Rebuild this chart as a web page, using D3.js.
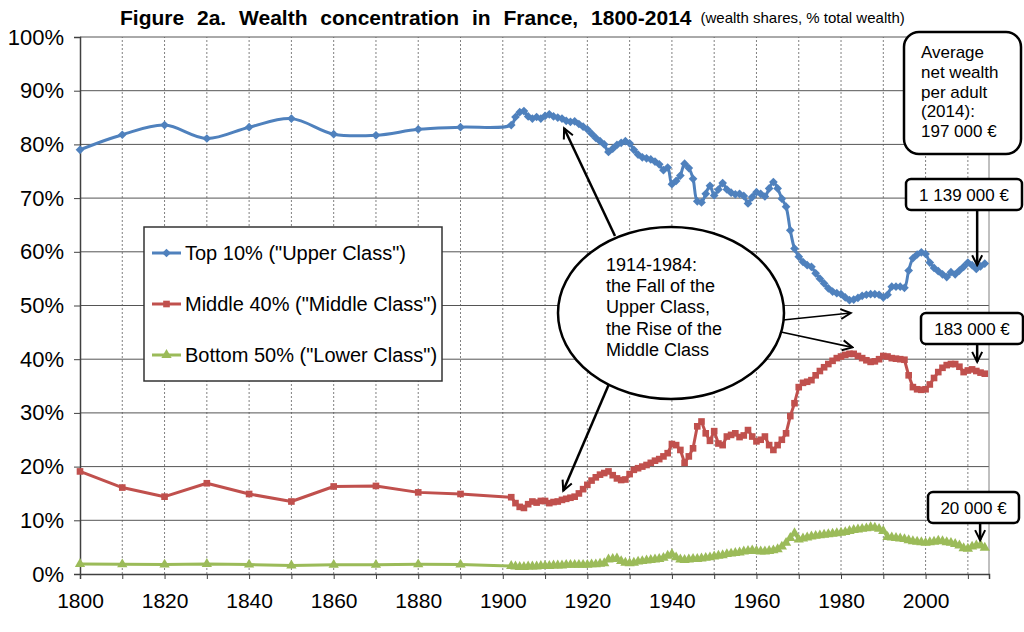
<!DOCTYPE html>
<html>
<head>
<meta charset="utf-8">
<script src="https://cdn.jsdelivr.net/npm/d3@7"></script>
<style>
  body { margin: 0; background: #fff; }
  svg text { font-family: "Liberation Sans", Arial, sans-serif; }
</style>
</head>
<body>
<div id="chart"></div>
<script>
// years: decennial estimates 1800-1890, then annual series 1902-2014
const years = [
  1800, 1810, 1820, 1830, 1840, 1850, 1860, 1870, 1880, 1890,
  1902, 1903, 1904, 1905, 1906, 1907, 1908, 1909, 1910, 1911,
  1912, 1913, 1914, 1915, 1916, 1917, 1918, 1919, 1920, 1921,
  1922, 1923, 1924, 1925, 1926, 1927, 1928, 1929, 1930, 1931,
  1932, 1933, 1934, 1935, 1936, 1937, 1938, 1939, 1940, 1941,
  1942, 1943, 1944, 1945, 1946, 1947, 1948, 1949, 1950, 1951,
  1952, 1953, 1954, 1955, 1956, 1957, 1958, 1959, 1960, 1961,
  1962, 1963, 1964, 1965, 1966, 1967, 1968, 1969, 1970, 1971,
  1972, 1973, 1974, 1975, 1976, 1977, 1978, 1979, 1980, 1981,
  1982, 1983, 1984, 1985, 1986, 1987, 1988, 1989, 1990, 1991,
  1992, 1993, 1994, 1995, 1996, 1997, 1998, 1999, 2000, 2001,
  2002, 2003, 2004, 2005, 2006, 2007, 2008, 2009, 2010, 2011,
  2012, 2013, 2014
]

const top10 = [
  79.0, 81.8, 83.6, 81.1, 83.2, 84.8, 81.9, 81.7, 82.8, 83.2,
  83.6, 85.1, 86.0, 86.2, 85.2, 84.8, 85.1, 84.8, 85.3, 85.6,
  85.2, 85.0, 84.8, 84.4, 84.2, 84.3, 83.8, 83.3, 82.8, 82.0,
  81.2, 80.6, 80.0, 78.6, 79.2, 79.9, 80.3, 80.6, 80.2, 79.0,
  78.1, 77.6, 77.4, 77.2, 76.8, 76.3, 75.2, 75.7, 72.6, 73.2,
  74.2, 76.4, 75.6, 73.6, 69.4, 69.2, 70.8, 72.3, 70.5, 71.6,
  72.8, 71.6, 71.0, 70.7, 70.8, 70.4, 69.0, 70.2, 71.1, 70.8,
  70.3, 71.8, 73.0, 71.8, 69.9, 68.4, 64.0, 60.6, 59.1, 58.1,
  57.5, 57.2, 56.0, 55.0, 54.1, 53.2, 52.6, 52.3, 52.1, 51.5,
  51.0, 51.1, 51.4, 51.8, 52.0, 52.1, 52.1, 52.0, 51.5, 52.0,
  53.5, 53.5, 53.5, 53.3, 56.5, 58.8, 59.5, 59.9, 59.6, 58.0,
  57.0, 56.4, 55.8, 55.3, 56.2, 55.8, 56.5, 57.2, 58.0, 57.5,
  56.8, 57.3, 57.8
]

const middle40 = [
  19.1, 16.1, 14.4, 16.9, 14.9, 13.5, 16.3, 16.4, 15.2, 14.9,
  14.3, 13.2, 12.5, 12.3, 13.0, 13.5, 13.3, 13.6, 13.6, 13.2,
  13.4, 13.5, 13.8, 14.0, 14.2, 14.4, 15.0, 15.8, 16.6, 17.4,
  18.0, 18.5, 18.8, 19.1, 18.4, 17.8, 17.5, 17.6, 18.6, 19.4,
  19.7, 20.0, 20.3, 20.7, 21.1, 21.4, 21.9, 22.5, 24.2, 24.0,
  23.1, 20.7, 21.9, 23.4, 27.5, 28.4, 26.2, 24.8, 26.6, 24.3,
  24.0, 25.6, 25.9, 26.2, 25.5, 25.8, 26.8, 25.6, 24.7, 25.0,
  25.6, 24.0, 23.1, 24.0, 25.0, 26.2, 29.4, 31.8, 34.8, 35.6,
  35.8, 36.1, 37.0, 37.8, 38.5, 39.1, 39.7, 40.2, 40.5, 40.8,
  41.0, 41.0, 40.6, 40.2, 39.8, 39.5, 39.6, 40.0, 40.6, 40.5,
  40.2, 40.1, 40.0, 39.9, 37.0, 34.8, 34.4, 34.3, 34.4, 35.3,
  36.5, 37.6, 38.4, 38.9, 39.1, 39.1, 38.6, 37.6, 37.9, 38.1,
  37.8, 37.5, 37.3
]

const bottom50 = [
  1.85, 1.8, 1.75, 1.85, 1.75, 1.6, 1.7, 1.7, 1.8, 1.75,
  1.5, 1.4, 1.3, 1.3, 1.4, 1.4, 1.4, 1.5, 1.5, 1.5,
  1.6, 1.6, 1.6, 1.7, 1.7, 1.7, 1.7, 1.7, 1.7, 1.8,
  1.8, 1.9, 2.0, 2.7, 2.8, 2.9, 2.4, 2.1, 2.0, 2.1,
  2.3, 2.4, 2.5, 2.6, 2.7, 2.8, 3.0, 3.4, 3.7, 3.1,
  2.7, 2.6, 2.7, 2.8, 2.8, 2.9, 3.0, 3.1, 3.25, 3.4,
  3.5, 3.7, 3.8, 3.9, 4.0, 4.2, 4.3, 4.4, 4.3, 4.2,
  4.2, 4.3, 4.4, 4.6, 5.1, 5.8, 6.7, 7.6, 6.4, 6.6,
  6.8, 7.0, 7.1, 7.2, 7.3, 7.4, 7.5, 7.6, 7.7, 7.8,
  8.0, 8.2, 8.3, 8.4, 8.5, 8.7, 8.6, 8.4, 8.0, 6.9,
  6.8, 6.7, 6.6, 6.5, 6.3, 6.1, 6.0, 5.9, 5.8, 5.9,
  6.0, 6.2, 6.1, 5.9, 5.8, 5.6, 5.3, 4.8, 4.7, 5.1,
  5.3, 5.4, 4.9
]

const seriesNames = ['Top 10% ("Upper Class")', 'Middle 40% ("Middle Class")', 'Bottom 50% ("Lower Class")']
const seriesColors = ["#4F81BD", "#C0504D", "#9BBB59"]
const yTicks = [0, 10, 20, 30, 40, 50, 60, 70, 80, 90, 100]
const xTicks = [1800, 1810, 1820, 1830, 1840, 1850, 1860, 1870, 1880, 1890, 1900,
  1910, 1920, 1930, 1940, 1950, 1960, 1970, 1980, 1990, 2000, 2010]

const width = 1024
const height = 632

const svg = d3.select("#chart").append("svg").attr("width", width).attr("height", height)

const x = d3.scaleLinear().domain([1800, 2015]).range([80, 989])
const y = d3.scaleLinear().domain([0, 100]).range([574, 37])

// arrow head
const defs = svg.append("defs")
defs.append("marker")
  .attr("id", "arrow")
  .attr("markerUnits", "userSpaceOnUse")
  .attr("viewBox", "0 0 14 14")
  .attr("refX", 12).attr("refY", 7)
  .attr("markerWidth", 14).attr("markerHeight", 14)
  .attr("orient", "auto")
  .append("path")
  .attr("d", "M2,2 L12,7 L2,12")
  .attr("fill", "none").attr("stroke", "#000").attr("stroke-width", 2)

// title
const title = svg.append("text").attr("x", 120).attr("y", 25)
title.append("tspan").attr("font-size", 21).attr("font-weight", "bold").attr("word-spacing", 7)
  .text("Figure 2a. Wealth concentration in France, 1800-2014")
title.append("tspan").attr("dx", 9).attr("font-size", 15).attr("dy", -2).text("(wealth shares, % total wealth)")

// grid lines
svg.append("g").selectAll("line").data(xTicks.slice(1)).join("line")
  .attr("x1", (d) => x(d)).attr("x2", (d) => x(d))
  .attr("y1", y(0)).attr("y2", y(100))
  .attr("stroke", "#808080").attr("stroke-width", 1).attr("stroke-dasharray", "2,2")

svg.append("g").selectAll("line").data(yTicks.slice(1)).join("line")
  .attr("x1", x(1800)).attr("x2", x(2015))
  .attr("y1", (d) => y(d)).attr("y2", (d) => y(d))
  .attr("stroke", "#555").attr("stroke-width", 1)

svg.append("line")
  .attr("x1", x(2015)).attr("x2", x(2015)).attr("y1", y(0)).attr("y2", y(100))
  .attr("stroke", "#808080")

// axes
const yAxis = svg.append("g").attr("transform", `translate(${x(1800)},0)`)
  .call(d3.axisLeft(y).tickValues(yTicks).tickFormat((d) => d + "%").tickSize(6).tickPadding(10))
yAxis.select(".domain").attr("stroke", "#404040").attr("stroke-width", 1.5)
yAxis.selectAll(".tick line").attr("stroke", "#404040")
yAxis.selectAll("text").attr("font-size", 22).attr("fill", "#000")

const xAxis = svg.append("g").attr("transform", `translate(0,${y(0)})`)
  .call(d3.axisBottom(x).tickValues(xTicks).tickFormat((d) => (d % 20 === 0 ? String(d) : "")).tickSize(5).tickPadding(14))
xAxis.select(".domain").attr("stroke", "#404040").attr("stroke-width", 1.5)
xAxis.selectAll(".tick line").attr("stroke", "#404040")
xAxis.selectAll("text").attr("font-size", 21).attr("fill", "#000")

// series
const allSeries = [top10, middle40, bottom50]
const symbols = [
  { type: d3.symbolSquare, size: 38, rotate: 45 },
  { type: d3.symbolSquare, size: 44, rotate: 0 },
  { type: d3.symbolTriangle, size: 46, rotate: 0 }
]

allSeries.forEach((vals, s) => {
  const pts = years.map((yr, i) => [yr, vals[i]])
  const line = d3.line().x((d) => x(d[0])).y((d) => y(d[1]))
  if (s === 0) line.curve(d3.curveCatmullRom.alpha(0.5))
  const g = svg.append("g")
  g.append("path").attr("d", line(pts))
    .attr("fill", "none").attr("stroke", seriesColors[s]).attr("stroke-width", 3)
    .attr("stroke-linejoin", "round")
  g.selectAll("path.m").data(pts).join("path").attr("class", "m")
    .attr("transform", (d) => `translate(${x(d[0])},${y(d[1])}) rotate(${symbols[s].rotate})`)
    .attr("d", d3.symbol(symbols[s].type, symbols[s].size))
    .attr("fill", seriesColors[s])
})

// legend
const legend = svg.append("g")
legend.append("rect").attr("x", 144).attr("y", 227).attr("width", 298).attr("height", 154)
  .attr("fill", "#fff").attr("stroke", "#333").attr("stroke-width", 1.5)
seriesNames.forEach((name, s) => {
  const ly = 253 + s * 51
  legend.append("line").attr("x1", 152).attr("x2", 181).attr("y1", ly).attr("y2", ly)
    .attr("stroke", seriesColors[s]).attr("stroke-width", 3)
  legend.append("path").attr("transform", `translate(166.5,${ly}) rotate(${symbols[s].rotate})`)
    .attr("d", d3.symbol(symbols[s].type, symbols[s].size)).attr("fill", seriesColors[s])
  legend.append("text").attr("x", 185).attr("y", ly).attr("dy", "0.36em")
    .attr("font-size", 20).text(name)
})

// callout bubble
const notes = svg.append("g")
const arrow = (x1, y1, x2, y2, w) =>
  notes.append("line").attr("x1", x1).attr("y1", y1).attr("x2", x2).attr("y2", y2)
    .attr("stroke", "#000").attr("stroke-width", w).attr("marker-end", "url(#arrow)")

arrow(615, 236, x(1914.5), y(83), 2.5)
arrow(609, 384, x(1914.3), y(15.5), 2.5)
arrow(783, 320, x(1982.3), y(48.6), 1.6)
arrow(781, 332, x(1982.7), y(42.2), 1.6)

notes.append("ellipse").attr("cx", 671).attr("cy", 313).attr("rx", 113).attr("ry", 86)
  .attr("fill", "#fff").attr("stroke", "#000").attr("stroke-width", 2.5)
const bubbleLines = ["1914-1984:", "the Fall of the", "Upper Class,", "the Rise of the", "Middle Class"]
notes.append("text").attr("font-size", 18).selectAll("tspan").data(bubbleLines).join("tspan")
  .attr("x", 606).attr("y", (d, i) => 271 + i * 21.2).text((d) => d)

// average wealth box
notes.append("rect").attr("x", 904).attr("y", 32).attr("width", 117).attr("height", 122).attr("rx", 15)
  .attr("fill", "#fff").attr("stroke", "#000").attr("stroke-width", 2.5)
const avgLines = ["Average", "net wealth", "per adult", "(2014):", "197 000 €"]
notes.append("text").attr("font-size", 17).selectAll("tspan").data(avgLines).join("tspan")
  .attr("x", 921).attr("y", (d, i) => 58 + i * 19.8).text((d) => d)

// value boxes with arrows to 2012
const boxes = [
  { label: "1 139 000 €", x: 906, y: 179, w: 116, tip: 57.5, ax: 2012.2 },
  { label: "183 000 €", x: 921, y: 313, w: 102, tip: 39.5, ax: 2012.2 },
  { label: "20 000 €", x: 928, y: 492, w: 91, tip: 6.3, ax: 2012.9 }
]
boxes.forEach((b) => {
  arrow(x(b.ax), b.y + 31, x(b.ax), y(b.tip), 2.5)
  notes.append("rect").attr("x", b.x).attr("y", b.y).attr("width", b.w).attr("height", 31).attr("rx", 5)
    .attr("fill", "#fff").attr("stroke", "#000").attr("stroke-width", 2.5)
  notes.append("text").attr("x", b.x + b.w / 2).attr("y", b.y + 22).attr("text-anchor", "middle")
    .attr("font-size", 17).text(b.label)
})
</script>
</body>
</html>
